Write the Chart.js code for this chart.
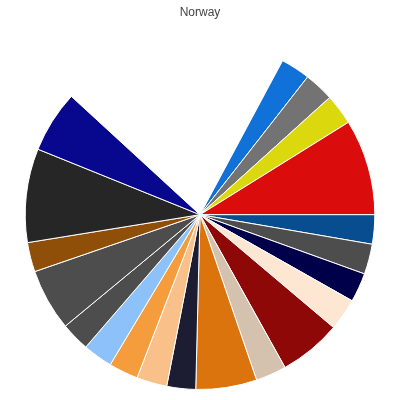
<!DOCTYPE html>
<html>
<head>
<meta charset="utf-8">
<script src="https://cdn.jsdelivr.net/npm/chart.js@4/dist/chart.umd.min.js"></script>
<style>
  html, body { margin: 0; padding: 0; background: #fff; }
  #wrap { width: 400px; height: 400px; }
</style>
</head>
<body>
<div id="wrap"><canvas id="c" width="400" height="400"></canvas></div>
<script>
const titleText = "Norway";
const categories = ["s1","s2","s3","s4","s5","s6","s7","s8","s9","s10","s11","s12","s13","s14","s15","s16","s17","s18","s19","s20","gap"];
const values = [9.8, 9.9, 10.2, 31.9, 9.75, 10.05, 9.7, 10.7, 20.7, 10.2, 20.3, 9.6, 10.1, 9.8, 9.9, 9.6, 20.6, 9.8, 31.2, 20.6, 75.6];
const colors = ["#1072d9","#737373","#dbd90d","#db0c0c","#084d8f","#4d4d4d","#00004a","#fde6d2","#8f0808","#d4c2ae","#db740c","#1c1c33","#f9c08a","#f59c3c","#8cc1f9","#4d4d4d","#4d4d4d","#8f4f08","#262626","#08088f","rgba(0,0,0,0)"];
const borderWidths = values.map((v, i) => i === values.length - 1 ? 0 : 1);

new Chart(document.getElementById('c'), {
  type: 'pie',
  data: {
    labels: categories,
    datasets: [{
      data: values,
      backgroundColor: colors,
      borderColor: '#ffffff',
      borderWidth: borderWidths
    }]
  },
  options: {
    responsive: false,
    animation: false,
    rotation: 28.2,
    layout: { padding: { left: 10, right: 10, top: 0, bottom: 10 } },
    plugins: {
      legend: { display: false },
      tooltip: { enabled: false },
      title: {
        display: true,
        text: titleText,
        color: '#444',
        font: { size: 12, weight: 'normal', family: 'Helvetica, Arial, "Liberation Sans", sans-serif' },
        padding: { top: 5, bottom: 20 }
      }
    }
  }
});
</script>
</body>
</html>
